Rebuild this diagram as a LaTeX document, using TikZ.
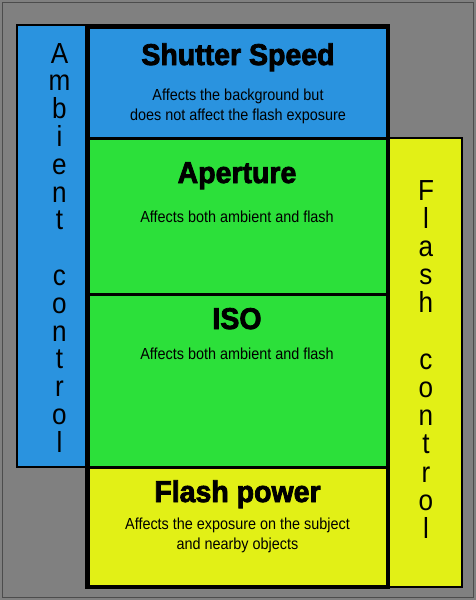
\documentclass[tikz,border=0pt]{standalone}
\usepackage{fontspec}
\usetikzlibrary{fit,positioning}

\newfontfamily\titlefont{Liberation Sans Bold}[FakeStretch=0.95,FakeBold=2.6]
\newfontfamily\bodyfont{Liberation Sans}[FakeStretch=0.9]

\definecolor{ambblue}{RGB}{42,147,223}
\definecolor{isogreen}{RGB}{44,224,58}
\definecolor{flashyellow}{RGB}{226,240,22}
\definecolor{bggray}{RGB}{128,128,128}

\begin{document}
\begin{tikzpicture}[x=1pt,y=-1pt]
      \tikzstyle{sidebox}=[rectangle, draw=black, line width=2.5pt, inner sep=0pt]
      \tikzstyle{mainbox}=[rectangle, draw=black, line width=3pt, inner sep=0pt, minimum width=299pt]
      \tikzstyle{outline}=[rectangle, draw=black, line width=3.5pt, inner sep=0pt]
      \tikzstyle{title}=[anchor=base, inner sep=0pt, font=\titlefont\fontsize{30}{30}\selectfont]
      \tikzstyle{body}=[anchor=base, inner sep=0pt, font=\bodyfont\fontsize{16}{20}\selectfont]
      \tikzstyle{sideletter}=[anchor=base, inner sep=0pt, font=\bodyfont\fontsize{29}{28}\selectfont]

      \useasboundingbox (0,0) rectangle (476,600);
      \fill[bggray] (0,0) rectangle (476,600);
      \draw[gray!60!black, line width=1.2pt] (2.5,2.5) rectangle (473.5,597.5);

      % side columns
      \node[sidebox, fill=ambblue, minimum width=71pt, minimum height=442pt] (ambient) at (52.5,246) {};
      \node[sidebox, fill=flashyellow, minimum width=75pt, minimum height=449pt] (flashctl) at (424.5,362.5) {};

      % main column
      \node[mainbox, fill=ambblue, minimum height=111pt] (shutter) at (237.5,82.5) {};
      \node[mainbox, fill=isogreen, minimum height=156pt] (aperture) at (237.5,216) {};
      \node[mainbox, fill=isogreen, minimum height=173pt] (iso) at (237.5,380.5) {};
      \node[mainbox, fill=flashyellow, minimum height=119pt] (power) at (237.5,526.5) {};
      \node[outline, fit=(shutter) (power)] (main) {};

      \node[title] (shutter-t) at (238,65) {Shutter Speed};
      \node[body] (shutter-a) at (238,100) {Affects the background but};
      \node[body] (shutter-b) at (238,120) {does not affect the flash exposure};

      \node[title] (aperture-t) at (237,183) {Aperture};
      \node[body] (aperture-a) at (237,222) {Affects both ambient and flash};

      \node[title] (iso-t) at (237,329) {ISO};
      \node[body] (iso-a) at (237,359) {Affects both ambient and flash};

      \node[title] (power-t) at (237.5,502) {Flash power};
      \node[body] (power-a) at (237.5,529) {Affects the exposure on the subject};
      \node[body] (power-b) at (237.5,549) {and nearby objects};

      % stacked letters
      \foreach \ch/\k in {A/0,m/1,b/2,i/3,e/4,n/5,t/6,c/8,o/9,n/10,t/11,r/12,o/13,l/14}
            \node[sideletter] (amb-\k) at (59.5,63+\k*27.8) {\ch};
      \foreach \ch/\k in {F/0,l/1,a/2,s/3,h/4,c/6,o/7,n/8,t/9,r/10,o/11,l/12}
            \node[sideletter] (fl-\k) at (426,200+\k*28.2) {\ch};
\end{tikzpicture}
\end{document}
